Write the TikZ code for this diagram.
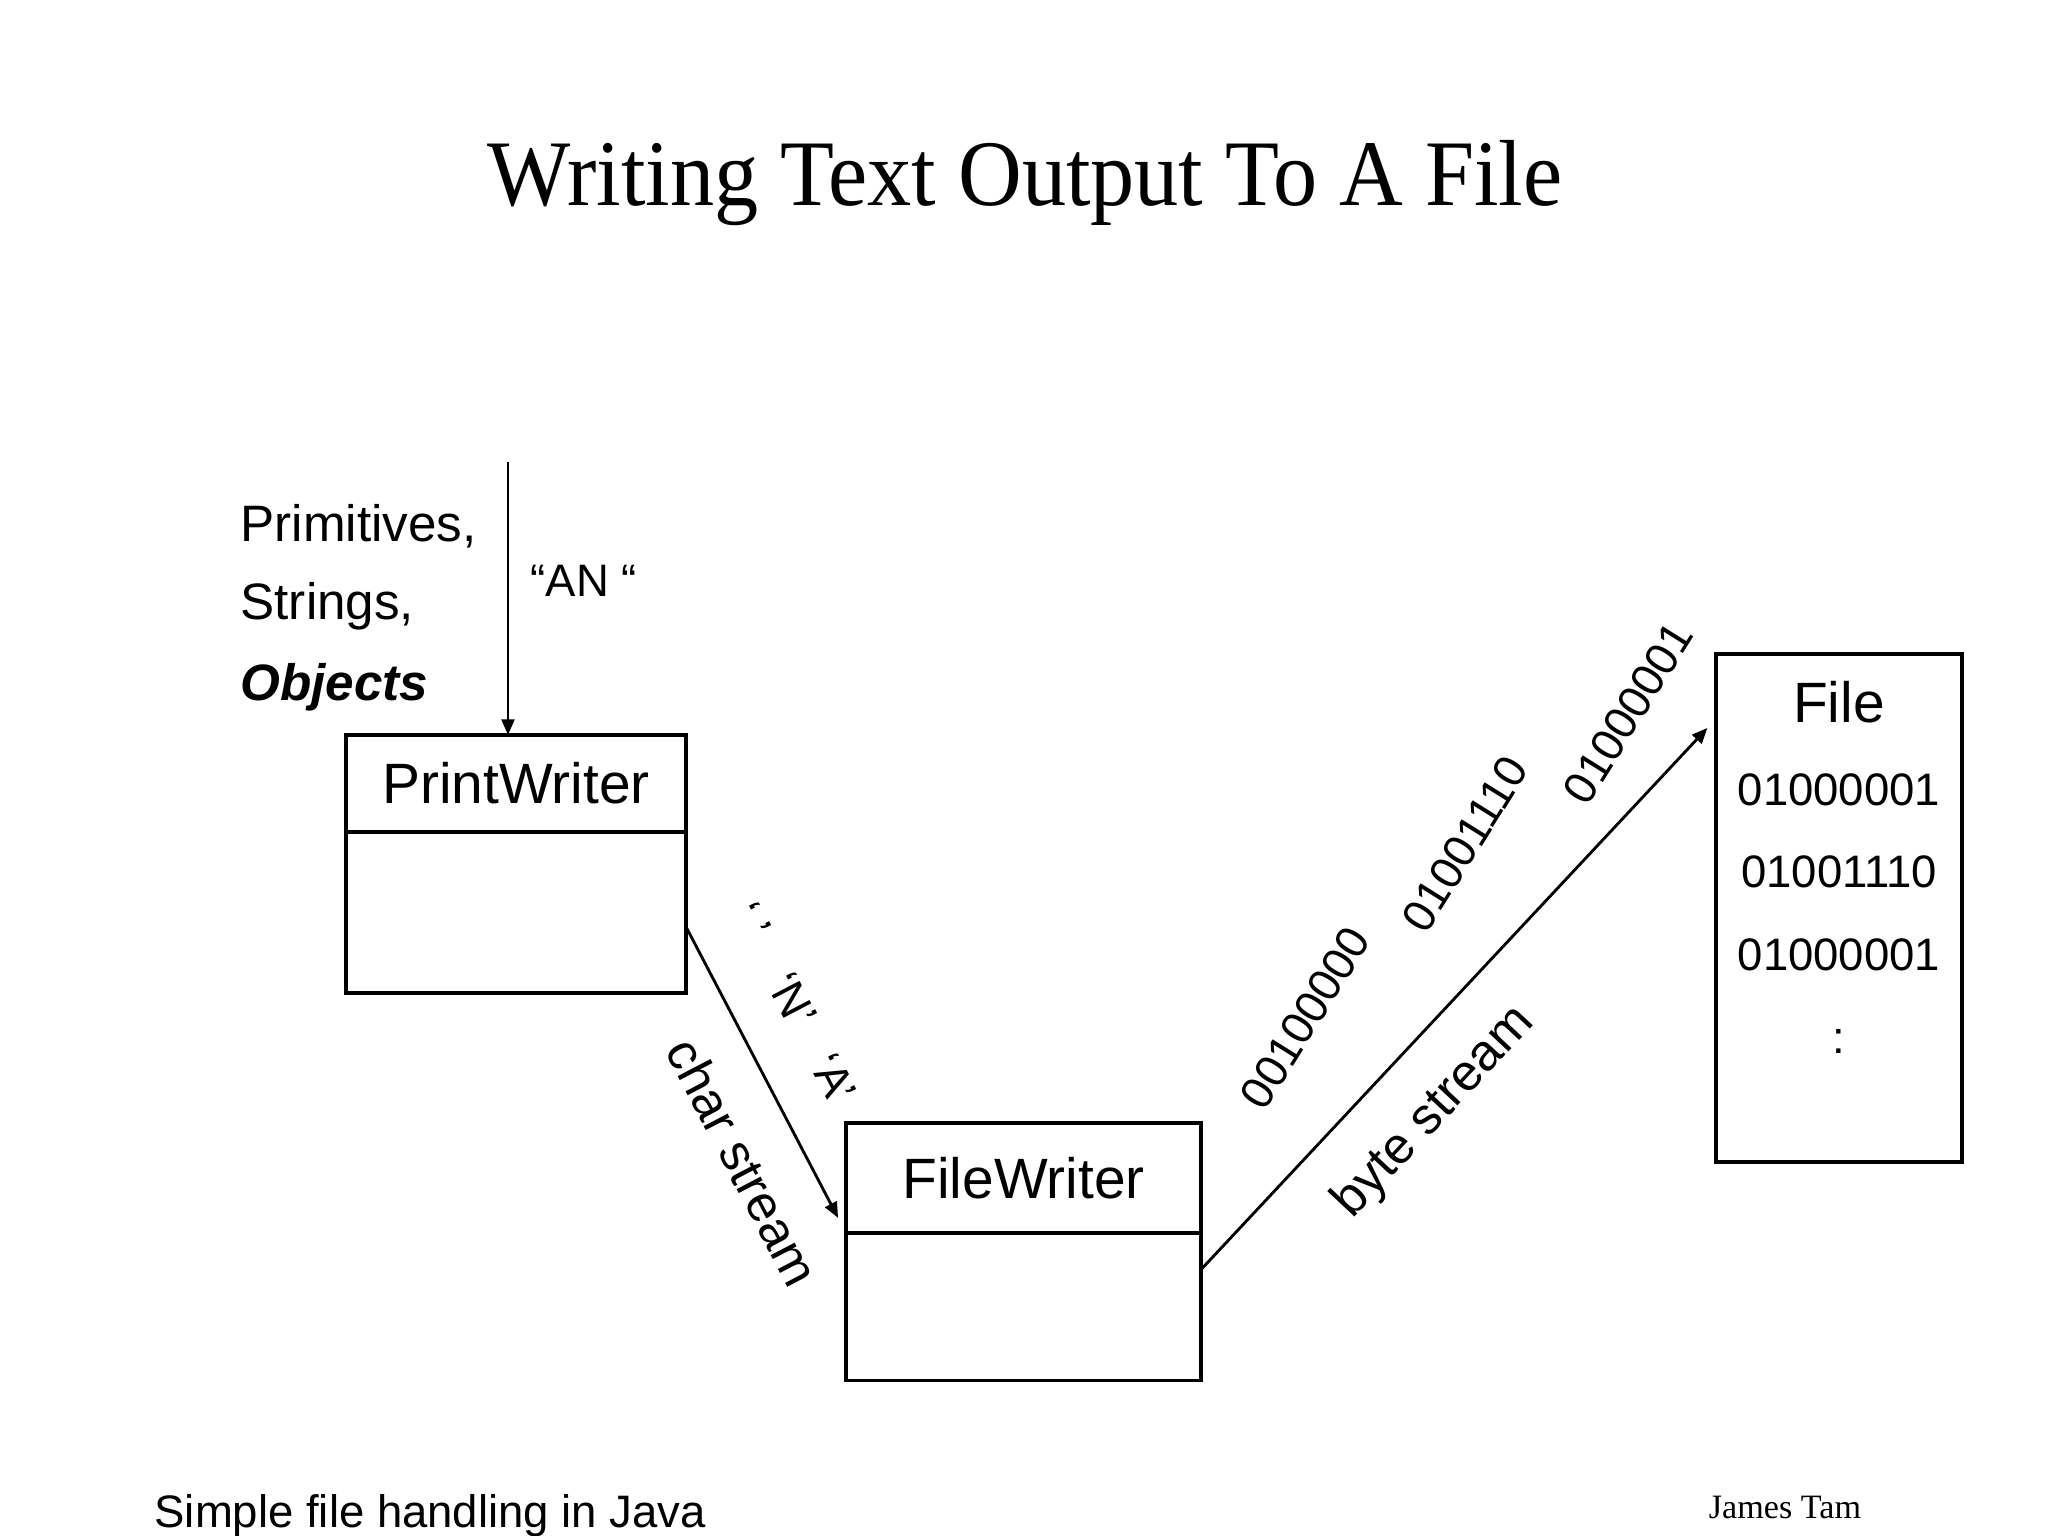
\documentclass[tikz,border=0pt]{standalone}
\usepackage{fontspec}
\setmainfont{Liberation Sans}
\newfontfamily\titlefont{Liberation Serif}
\usetikzlibrary{positioning,arrows.meta}

\begin{document}
\begin{tikzpicture}[
    x=0.35156pt, y=-0.35156pt,
    box/.style={
      rectangle,
      draw=black,
      line width=1.1pt,
      outer sep=0pt,
      inner sep=0pt
    },
    classname/.style={
      box,
      font=\fontsize{20}{24}\selectfont
    },
    arrow/.style={
      -{Triangle[length=5.5pt, width=4.5pt]},
      line width=1pt,
      draw=black
    },
    listtext/.style={
      font=\fontsize{18}{22}\selectfont,
      anchor=base west,
      inner sep=0pt
    },
    smalltext/.style={
      font=\fontsize{16}{19}\selectfont
    },
    streamlabel/.style={
      font=\fontsize{18}{22}\selectfont,
      sloped
    },
    bits/.style={
      font=\fontsize{16}{19}\selectfont,
      rotate=58
    }
  ]
    \useasboundingbox (0,0) rectangle (2048,1536);

    % title and footer
    \node[font=\titlefont\fontsize{33}{40}\selectfont, anchor=base] (title) at (1025,206)
      {\scalebox{0.94}[1]{Writing Text Output To A File}};
    \node[smalltext, anchor=base west, inner sep=0pt] (footer) at (154,1527) {Simple file handling in Java};
    \node[font=\titlefont\fontsize{12}{14}\selectfont, anchor=base] (author) at (1785,1518) {James Tam};

    % the classes
    \node[classname, minimum width=119.5pt, minimum height=34.1pt] (pwh) at (516,783.5) {PrintWriter};
    \node[box, minimum width=119.5pt, minimum height=56.6pt, below=0pt of pwh] (pwb) {};
    \node[classname, minimum width=124.8pt, minimum height=38.7pt] (fwh) at (1023.5,1178) {FileWriter};
    \node[box, minimum width=124.8pt, minimum height=51.7pt, below=0pt of fwh] (fwb) {};

    % the file
    \node[box, minimum width=86.5pt, minimum height=178.6pt] (file) at (1839,908) {};
    \node[font=\fontsize{20}{24}\selectfont] (ftitle) at (1839,702) {File};
    \node[smalltext] (fb1) at (1839,790) {01000001};
    \node[smalltext] (fb2) at (1839,872) {01001110};
    \node[smalltext] (fb3) at (1839,955) {01000001};
    \node[smalltext] (fdots) at (1839,1041) {:};

    % what goes in
    \node[listtext] (prim) at (240,542) {Primitives,};
    \node[listtext] (str) at (240,620) {Strings,};
    \node[listtext, font=\fontsize{18}{22}\selectfont\bfseries\itshape] (obj) at (240,700) {Objects};
    \coordinate (src) at (508,462);
    \draw[arrow] (src) -- (src |- pwh.north);
    \node[smalltext, anchor=base west, inner sep=0pt] (an) at (530,597) {“AN “};

    % char stream
    \draw[arrow, shorten >=6pt] ([yshift=-5pt]pwb.east) -- (fwh.south west)
      node[streamlabel, pos=0.68, below=10pt] (cs) {char stream}
      node[streamlabel, smalltext, pos=0.34, above=12pt] (chars)
        {‘\hspace{0.28em}’\hspace{1em}‘N’\hspace{0.85em}‘A’};

    % byte stream
    \draw[arrow] ([yshift=13pt]fwb.east) -- ([xshift=-3pt, yshift=-26pt]file.north west)
      node[streamlabel, pos=0.37, below=10pt] (bs) {byte stream};
    \node[bits] (b1) at (1305,1018) {00100000};
    \node[bits] (b2) at (1465,844) {01001110};
    \node[bits] (b3) at (1628,713) {01000001};

  \end{tikzpicture}
\end{document}
